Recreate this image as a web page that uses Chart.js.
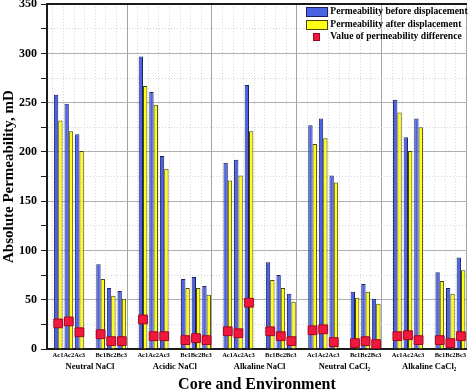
<!DOCTYPE html>
<html><head><meta charset="utf-8">
<script src="https://cdn.jsdelivr.net/npm/chart.js@4.4.1/dist/chart.umd.min.js"></script>
<style>
html,body{margin:0;padding:0;background:#fff;overflow:hidden;width:474px;height:391px;}
#wrap{position:absolute;left:0;top:-7px;width:474px;height:398px;}
</style></head><body>
<div id="wrap"><canvas id="c"></canvas></div>
<script>
// ---- data ----
const environments = ['Neutral NaCl', 'Acidic NaCl', 'Alkaline NaCl', 'Neutral CaCl\u2082', 'Alkaline CaCl\u2082'];
const coreGroups = ['Ac1Ac2Ac3', 'Bc1Bc2Bc3'];
const cores = ['Ac1', 'Ac2', 'Ac3', 'Bc1', 'Bc2', 'Bc3'];
const seriesNames = ['Permeability before displacement', 'Permeability after displacement', 'Value of permeability difference'];
// order: for each environment Ac1, Ac2, Ac3, Bc1, Bc2, Bc3
const permeabilityBefore = [258, 249, 218, 86, 62, 59,  297, 261, 196, 71, 73, 64,  189, 192, 268, 88, 75, 56,  227, 234, 176, 58, 66, 51,  253, 215, 234, 78, 62, 93];
const permeabilityAfter  = [232, 221, 201, 71, 54, 51,  267, 248, 183, 62, 62, 55,  171, 176, 221, 70, 62, 48,  208, 214, 169, 52, 58, 46,  240, 201, 225, 69, 56, 80];
const permeabilityDiff   = [26, 28, 17, 15, 8, 8,       30, 13, 13, 9, 11, 9,        18, 16, 47, 18, 13, 8,       19, 20, 7, 6, 8, 5,          13, 14, 9, 9, 6, 13];
const yTickLabels = [0, 50, 100, 150, 200, 250, 300, 350];

// ---- category layout: each environment = 8 slots (gap, Ac1..Ac3, gap, Bc1..Bc3) ----
const SLOTS = 8;
const coreSlot = [1, 2, 3, 5, 6, 7];
const X_MIN = 0.44, X_MAX = 40.05;
function slotX(i) { const e = Math.floor(i / cores.length), c = i % cores.length; return e * SLOTS + coreSlot[c] + 0.5; }
const pts = arr => arr.map((v, i) => ({ x: slotX(i), y: v }));
const groupTicks = [];
environments.forEach((e, i) => { groupTicks.push({ value: i * SLOTS + 2.5, label: coreGroups[0] }); groupTicks.push({ value: i * SLOTS + 6.5, label: coreGroups[1] }); });
const envTicks = environments.map((e, i) => ({ value: i * SLOTS + 4.5, label: e }));

const SERIF = "'Liberation Serif','Times New Roman',serif";
const DARK = '#1a1a1a';

const legendPlugin = {
  id: 'insideLegend',
  afterDatasetsDraw(chart) {
    const { ctx, chartArea: a } = chart;
    const ds = chart.data.datasets;
    const items = [ds[1], ds[2], ds[0]];
    ctx.save();
    ctx.font = 'bold 9.6px ' + SERIF;
    ctx.textBaseline = 'middle';
    ctx.textAlign = 'left';
    items.forEach((d, i) => {
      const cy = Math.round(a.top + 8 + i * 12.6);
      const bx = Math.round(a.right - 161);
      ctx.lineWidth = 1;
      if (d.type === 'scatter') {
        ctx.fillStyle = d.backgroundColor; ctx.strokeStyle = d.borderColor;
        ctx.fillRect(bx + 7, cy - 4, 7, 8);
        ctx.strokeRect(bx + 7.5, cy - 3.5, 6, 7);
      } else {
        ctx.fillStyle = d.backgroundColor; ctx.strokeStyle = d.borderColor;
        ctx.fillRect(bx, cy - 5, 22, 10);
        ctx.strokeRect(bx + 0.5, cy - 4.5, 21, 9);
      }
      ctx.fillStyle = '#000';
      ctx.fillText(d.label, a.right - 136.5, cy);
    });
    ctx.restore();
  }
};

const labelAxis = (weight, ticks, fontSize, padding, height, extra) => Object.assign({
  type: 'linear', position: 'bottom', weight: weight, min: X_MIN, max: X_MAX, offset: false, bounds: 'data',
  afterBuildTicks: s => { s.ticks = ticks.map(t => ({ value: t.value })); },
  ticks: {
    display: true, autoSkip: false, maxRotation: 0, minRotation: 0, padding: padding, color: '#000',
    font: { family: SERIF, size: fontSize, weight: 'bold' },
    callback: v => { const t = ticks.find(t => Math.abs(t.value - v) < 1e-6); return t ? t.label : ''; }
  },
  grid: { display: false, drawTicks: false, offset: false },
  border: { display: false },
  afterFit: s => { s.height = height; }
}, extra || {});

new Chart(document.getElementById('c'), {
  type: 'bar',
  data: {
    datasets: [
      { type: 'scatter', label: seriesNames[2], data: pts(permeabilityDiff), pointStyle: 'rect', pointRadius: 6.2, pointHoverRadius: 6.2,
        backgroundColor: '#f0183c', borderColor: '#a00822', borderWidth: 1, order: 0, xAxisID: 'x', yAxisID: 'y' },
      { label: seriesNames[0], data: pts(permeabilityBefore), backgroundColor: '#4a62e4', borderColor: '#1c2060', borderWidth: 1, order: 1, xAxisID: 'x', yAxisID: 'y' },
      { label: seriesNames[1], data: pts(permeabilityAfter), backgroundColor: '#ffff14', borderColor: '#45450c', borderWidth: 1, order: 2, xAxisID: 'x', yAxisID: 'y' }
    ]
  },
  options: {
    responsive: true, maintainAspectRatio: false, animation: false,
    layout: { padding: { left: 0, right: 5, top: 0, bottom: 0 } },
    plugins: { legend: { display: false }, tooltip: { enabled: false } },
    datasets: { bar: { categoryPercentage: 0.82, barPercentage: 1 } },
    scales: {
      x: {
        type: 'linear', position: 'bottom', weight: 0, min: X_MIN, max: X_MAX, offset: false, bounds: 'data',
        afterBuildTicks: s => { s.ticks = []; for (let k = 1; k <= environments.length * SLOTS; k++) s.ticks.push({ value: k }); },
        ticks: { display: false },
        grid: {
          display: true, offset: false, drawTicks: false, lineWidth: 1,
          color: c => (c.tick && c.tick.value % SLOTS === 0) ? '#a4a4a4' : '#d4d4d4'
        },
        border: { display: true, color: DARK, width: 2, dash: c => (c.tick && c.tick.value % SLOTS !== 0) ? [1, 2] : [] },
        afterFit: s => { s.height = 0; }
      },
      xg: labelAxis(1, groupTicks, 6.5, 2, 10),
      xe: labelAxis(2, envTicks, 8.5, 3, 32, {
        title: { display: true, text: 'Core and Environment', color: '#000', padding: 0,
                 font: { family: SERIF, size: 16, weight: 'bold', lineHeight: 0.8 } }
      }),
      xTop: {
        type: 'linear', position: 'top', min: 0, max: 1, display: true,
        ticks: { display: false }, grid: { display: false, drawTicks: false },
        border: { display: true, color: DARK, width: 2 },
        afterFit: s => { s.height = 0; }
      },
      y: {
        type: 'linear', position: 'left', min: 0, max: 350,
        ticks: { stepSize: 25, autoSkip: false, padding: 4, color: '#000',
                 font: { family: SERIF, size: 12, weight: 'bold' },
                 callback: v => yTickLabels.includes(v) ? String(v) : '' },
        grid: { drawTicks: true, tickLength: 6, tickColor: DARK, tickWidth: 1, lineWidth: 1,
                color: c => (c.tick && c.tick.value % 50 !== 0) ? '#d4d4d4' : '#b0b0b0' },
        border: { display: true, color: DARK, width: 2, dash: c => (c.tick && c.tick.value % 50 !== 0) ? [1, 2] : [] },
        title: { display: true, text: 'Absolute Permeability, mD', color: '#000', padding: { top: 0, bottom: 0 },
                 font: { family: SERIF, size: 15, weight: 'bold' } },
        afterFit: s => { s.width = 47; }
      }
    }
  },
  plugins: [legendPlugin]
});
</script>
</body></html>
